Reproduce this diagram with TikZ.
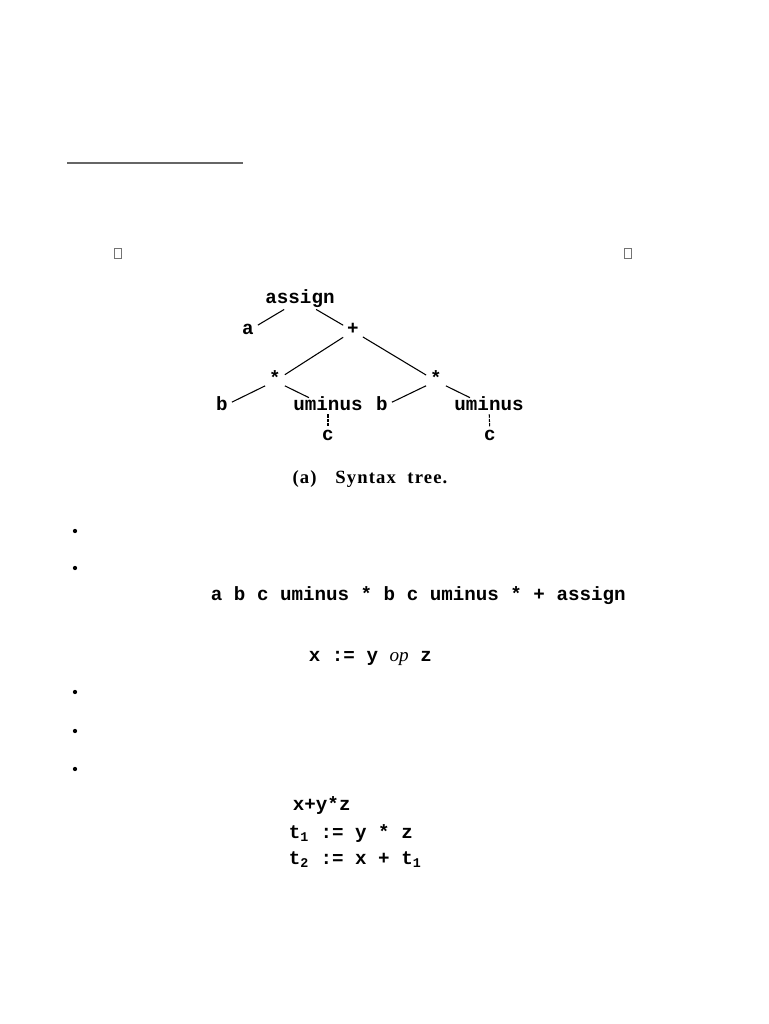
\documentclass[tikz,border=0pt]{standalone}
\usepackage{fontspec}
\setmainfont{Liberation Serif}
\setmonofont{Liberation Mono}
\begin{document}
\begin{tikzpicture}[x=0.75pt,y=-0.75pt,every node/.style={text centered,inner sep=2pt},
  tt/.style={font=\fontsize{14.4}{17}\selectfont\ttfamily\bfseries,text height=1.5ex,text depth=.4ex},
  edge/.style={line width=0.8pt,shorten <=1pt,shorten >=1pt},
  bullet/.style={circle,fill=black,inner sep=0pt,minimum size=3.2pt},
  glyphbox/.style={draw=black!55,line width=0.7pt,minimum width=5pt,minimum height=7.5pt,inner sep=0pt}]
\useasboundingbox (0,0) rectangle (768,1024);

% rule under the heading
\draw[line width=1.5pt,black!60] (67,163) -- (243,163);

% the two empty glyph boxes
\node[glyphbox] (gl) at (118,253) {};
\node[glyphbox] (gr) at (628,253) {};

%%% the syntax tree
\node[tt] (assign) at (300,300) {assign};
\node[tt] (a) at (248,331) {a};
\node[tt] (plus) at (353,331) {+};
\node[tt] (mulL) at (275,381) {*};
\node[tt] (mulR) at (436,381) {*};
\node[tt] (bL) at (222,407) {b};
\node[tt] (umL) at (328,407) {uminus};
\node[tt] (bR) at (382,407) {b};
\node[tt] (umR) at (489,407) {uminus};
\node[tt] (cL) at (328,437) {c};
\node[tt] (cR) at (490,437) {c};

\draw[edge] (assign) -- (a);
\draw[edge] (assign) -- (plus);
\draw[edge] (plus) -- (mulL);
\draw[edge] (plus) -- (mulR);
\draw[edge] (mulL) -- (bL);
\draw[edge] (mulL) -- (umL);
\draw[edge] (mulR) -- (bR);
\draw[edge] (mulR) -- (umR);
\draw[edge,shorten <=-1pt,shorten >=1.5pt,dash pattern=on 2.5pt off 0.8pt] (umL) -- (cL);
\draw[edge,shorten <=-1pt,shorten >=1.5pt,dash pattern=on 2.5pt off 0.8pt] (umR) -- (cR);

\node[font=\fontsize{14}{16}\selectfont\bfseries\addfontfeatures{LetterSpace=6}] (cap) at (370,479) {(a)\quad Syntax\ \ tree.};

%%% bullets
\node[bullet] (b1) at (75,531) {};
\node[bullet] (b2) at (75,568) {};
\node[bullet] (b3) at (75,692) {};
\node[bullet] (b4) at (75,731) {};
\node[bullet] (b5) at (75,769) {};

% postfix form
\node[tt,anchor=west] (postfix) at (208,597) {a b c uminus * b c uminus * + assign};

% general three-address statement
\node[tt,anchor=west] (stmt) at (306,658) {x :=\ y \textnormal{\itshape op}\ z};

% x+y*z and its code
\node[tt,anchor=west] (expr) at (290,807) {x+y*z};
\node[tt,anchor=west] (t1) at (286,835) {t\textsubscript{1} := y * z};
\node[tt,anchor=west] (t2) at (286,861) {t\textsubscript{2} := x + t\textsubscript{1}};

\end{tikzpicture}
\end{document}
